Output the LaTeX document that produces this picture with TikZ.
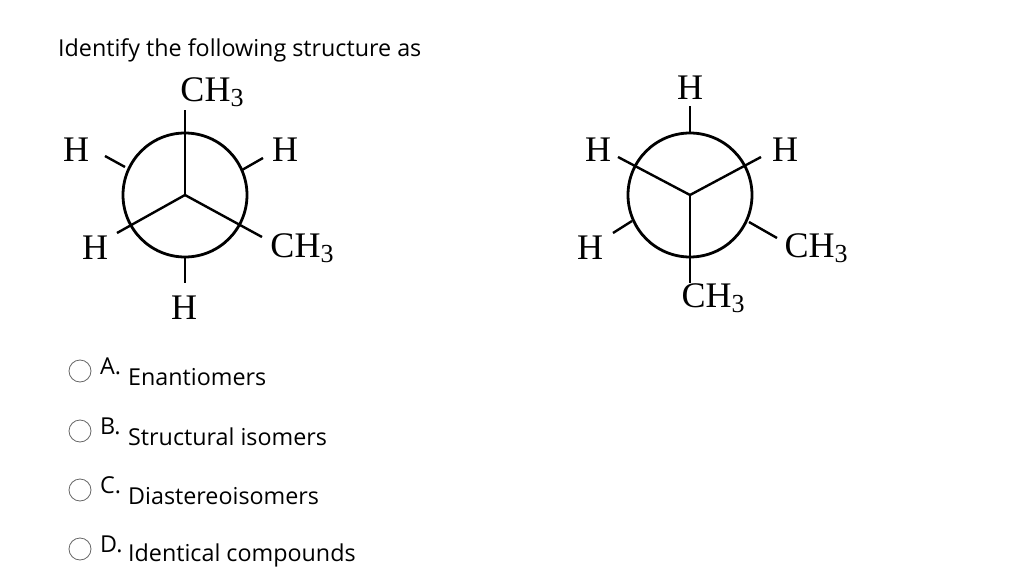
\documentclass[tikz,border=0pt]{standalone}
\usepackage{fontspec}
\setmainfont{Open Sans}
\newfontfamily\chem{Liberation Serif}
\newcommand{\mysub}[1]{\raisebox{-0.3ex}{\fontsize{26}{26}\selectfont #1}}
\begin{document}
\begin{tikzpicture}[x=1pt,y=-1pt,
  bond/.style={line width=2.4pt},
  ring/.style={line width=2.8pt},
  atom/.style={font=\chem\fontsize{36}{36}\selectfont,inner sep=0pt},
  txt/.style={font=\fontsize{23.3}{26}\selectfont,anchor=west,inner sep=0pt},
  lett/.style={font=\fontsize{23.3}{26}\selectfont,anchor=west,inner sep=0pt},
  radio/.style={circle,draw=black!60,line width=0.8pt,minimum size=22pt,inner sep=0pt}]
\useasboundingbox (0,0) rectangle (1024,588);
\node[anchor=west,inner sep=0pt,font=\fontsize{23.3}{26}\selectfont] (q) at (58,50) {Identify the following structure as};
% left Newman
\coordinate (c1) at (185,195);
\draw[ring] (c1) circle (62);
\draw[bond] (c1) -- (185,110);
\draw[bond] (c1) -- (117,233);
\draw[bond] (c1) -- (262,237);
\draw[bond] (125,167) -- (105,156);
\draw[bond] (242,170) -- (263,158);
\draw[bond] (185,257) -- (185,283);
\node[atom] (l1) at (212,92) {CH\mysub{3}};
\node[atom] (l2) at (76,150) {H};
\node[atom] (l3) at (285,150) {H};
\node[atom] (l4) at (95,248) {H};
\node[atom] (l5) at (302,248) {CH\mysub{3}};
\node[atom] (l6) at (184,308) {H};
% right Newman
\coordinate (c2) at (690,195);
\draw[ring] (c2) circle (62);
\draw[bond] (690,133) -- (690,106);
\draw[bond] (c2) -- (618,157);
\draw[bond] (c2) -- (761,157);
\draw[bond] (c2) -- (690,283);
\draw[bond] (632,221) -- (613,233);
\draw[bond] (749,222) -- (777,238);
\node[atom] (r1) at (690,88) {H};
\node[atom] (r2) at (598,150) {H};
\node[atom] (r3) at (785,150) {H};
\node[atom] (r4) at (590,248) {H};
\node[atom] (r5) at (816,248) {CH\mysub{3}};
\node[atom] (r6) at (713,298) {CH\mysub{3}};
% options
\foreach \y/\l/\t [count=\i] in {371/A./Enantiomers,431/B./Structural isomers,490/C./Diastereoisomers,549/D./Identical compounds}{
  \node[radio] (o\i) at (80,\y) {};
  \node[lett] (a\i) at (100,\y-5) {\l};
  \node[txt] (t\i) at (128,\y+6) {\t};
}
\end{tikzpicture}
\end{document}
